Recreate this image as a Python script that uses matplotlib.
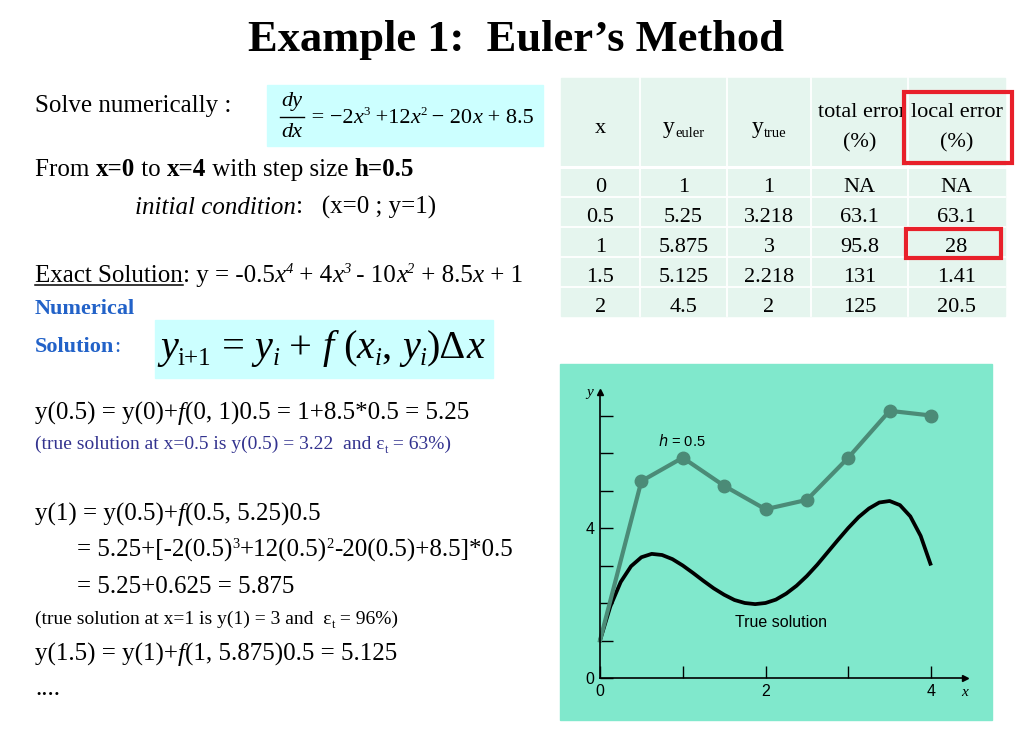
import matplotlib
matplotlib.use("Agg")
import matplotlib.pyplot as plt
from matplotlib.patches import Rectangle

# data
euler_x = [0, 0.5, 1, 1.5, 2, 2.5, 3, 3.5, 4]
euler_y = [1, 5.25, 5.875, 5.125, 4.5, 4.75, 5.875, 7.125, 7.0]

true_x = [0, 0.125, 0.25, 0.375, 0.5, 0.625, 0.75, 0.875, 1, 1.125, 1.25,
          1.375, 1.5, 1.625, 1.75, 1.875, 2, 2.125, 2.25, 2.375, 2.5, 2.625,
          2.75, 2.875, 3, 3.125, 3.25, 3.375, 3.5, 3.625, 3.75, 3.875, 4]
true_y = [1, 1.91, 2.56, 2.98, 3.22, 3.31, 3.28, 3.17, 3.0, 2.80, 2.59,
          2.39, 2.22, 2.08, 2.0, 1.97, 2.0, 2.09, 2.25, 2.46, 2.72, 3.02,
          3.35, 3.68, 4.0, 4.29, 4.52, 4.68, 4.72, 4.61, 4.31, 3.79, 3.0]

tab_x = ["0", "0.5", "1", "1.5", "2"]
tab_euler = ["1", "5.25", "5.875", "5.125", "4.5"]
tab_true = ["1", "3.218", "3", "2.218", "2"]
tab_total = ["NA", "63.1", "95.8", "131", "125"]
tab_local = ["NA", "63.1", "28", "1.41", "20.5"]

SERIF = "Liberation Serif"
SANS = "Liberation Sans"
PX = 100 / 72  # pixels per point

fig = plt.figure(figsize=(10.24, 7.29), dpi=100)
bg = fig.add_axes([0, 0, 1, 1])
bg.set_xlim(0, 1024)
bg.set_ylim(729, 0)
bg.axis("off")
renderer = fig.canvas.get_renderer()


def width_of(txt, **kw):
    t = bg.text(0, 0, txt + "|", **kw)
    w = t.get_window_extent(renderer).width
    t.remove()
    t = bg.text(0, 0, "|", **kw)
    w -= t.get_window_extent(renderer).width
    t.remove()
    return w


def runs(x, y, parts, size=18, color="black", family=SERIF, center=False, draw=True,
         clip=None):
    if center:
        total = runs(0, 0, parts, size, color, family, draw=False)
        x = x - total / 2
    for part in parts:
        txt, style = part if isinstance(part, tuple) else (part, "")
        kw = dict(family=family, color=color)
        s, yy = size, y
        if "b" in style:
            kw["weight"] = "bold"
        if "i" in style:
            kw["style"] = "italic"
        if "^" in style:
            s = size * 0.58
            yy = y - size * PX * 0.38
        if "_" in style:
            s = size * 0.62
            yy = y + size * PX * 0.18
        kw["fontsize"] = s
        w = width_of(txt, **kw)
        if draw:
            t = bg.text(x, yy, txt, va="baseline", ha="left", **kw)
            if clip is not None:
                t.set_clip_path(clip)
            if "u" in style:
                bg.plot([x, x + w], [y + 3, y + 3], color=color, lw=1.1)
        x += w
    return x


# title
bg.text(516, 51, "Example 1:  Euler\u2019s Method", family=SERIF, weight="bold",
        fontsize=32, ha="center", va="baseline")

# left column text
runs(35, 112, ["Solve numerically :"])

bg.add_patch(Rectangle((267, 85), 276, 61, color="#ccffff", zorder=0))
runs(292, 106, [("dy", "i")], size=16, center=True)
bg.plot([280, 304], [117, 117], color="black", lw=1)
runs(292, 137, [("dx", "i")], size=16, center=True)
runs(306, 123, [" = \u22122", ("x", "i"), ("3", "^"), " +12", ("x", "i"), ("2", "^"),
                " \u2212 20", ("x", "i"), " + 8.5"], size=16)

runs(35, 176, ["From ", ("x=0", "b"), " to ", ("x=4", "b"), " with step size ",
               ("h=0.5", "b")])
runs(135, 214, [("initial condition", "i"), ":   (x=0 ; y=1)"])
runs(35, 282, [("Exact Solution", "u"), ": y = -0.5", ("x", "i"), ("4", "^i"), " + 4",
               ("x", "i"), ("3", "^i"), " - 10", ("x", "i"), ("2", "^i"), " + 8.5",
               ("x", "i"), " + 1"])
runs(35, 314, [("Numerical", "b")], size=16, color="#2262c8")
runs(35, 352, [("Solution", "b"), ":"], size=16, color="#2262c8")

bg.add_patch(Rectangle((155, 320), 338, 58, color="#ccffff", zorder=0))
runs(160, 358, [("y", "i"), ("i+1", "_"), " = ", ("y", "i"), ("i", "_i"), " + ",
                ("f", "i"), " (", ("x", "i"), ("i", "_i"), ", ", ("y", "i"), ("i", "_i"),
                ")\u0394", ("x", "i")], size=29)

runs(35, 420, ["y(0.5) = y(0)+", ("f", "i"), "(0, 1)0.5 = 1+8.5*0.5 = 5.25"])
runs(35, 449, ["(true solution at x=0.5 is y(0.5) = 3.22  and \u03b5", ("t", "_"),
               " = 63%)"], size=14, color="#33338f")
runs(35, 521, ["y(1) = y(0.5)+", ("f", "i"), "(0.5, 5.25)0.5"])
runs(77, 557, ["= 5.25+[-2(0.5)", ("3", "^"), "+12(0.5)", ("2", "^"),
               "-20(0.5)+8.5]*0.5"])
runs(77, 593, ["= 5.25+0.625 = 5.875"])
runs(35, 624, ["(true solution at x=1 is y(1) = 3 and  \u03b5", ("t", "_"), " = 96%)"],
     size=14)
runs(35, 661, ["y(1.5) = y(1)+", ("f", "i"), "(1, 5.875)0.5 = 5.125"])
runs(35, 695, ["...."])

# table
col_edges = [561, 640, 727, 811, 908, 1005]
row_edges = [78, 167, 197, 227, 257, 287, 316]
bg.add_patch(Rectangle((col_edges[0], row_edges[0]), col_edges[-1] - col_edges[0],
                       row_edges[-1] - row_edges[0], color="#e5f5ee", zorder=0))
for cx in col_edges[1:-1]:
    bg.plot([cx, cx], [row_edges[0], row_edges[-1]], color="white", lw=1.3)
for i, ry in enumerate(row_edges[1:-1]):
    bg.plot([col_edges[0], col_edges[-1]], [ry, ry], color="white", lw=2.2 if i == 0 else 1.3)

centers = [(a + b) / 2 for a, b in zip(col_edges[:-1], col_edges[1:])]
runs(centers[0], 133, ["x"], size=16, center=True)
runs(centers[1], 133, ["y", ("euler", "_")], size=17, center=True)
runs(centers[2], 133, ["y", ("true", "_")], size=17, center=True)
total_clip = Rectangle((col_edges[3], row_edges[0]), col_edges[4] - col_edges[3] - 1,
                       row_edges[1] - row_edges[0], transform=bg.transData)
runs(centers[3] + 3, 117, ["total error"], size=16, center=True, clip=total_clip)
runs(centers[4], 117, ["local error"], size=16, center=True)
for c in (3, 4):
    runs(centers[c], 147, ["(%)"], size=16, center=True)
for r, row in enumerate(zip(tab_x, tab_euler, tab_true, tab_total, tab_local)):
    for c, val in enumerate(row):
        runs(centers[c], row_edges[r + 1] + 25, [val], size=16, center=True)

bg.add_patch(Rectangle((904, 92), 108, 71, fill=False, ec="#e8202a", lw=3, zorder=5))
bg.add_patch(Rectangle((906, 229), 95, 29, fill=False, ec="#e8202a", lw=3, zorder=5))

# chart panel
bg.add_patch(Rectangle((560, 364), 432, 356, color="#80e8cc", zorder=0))
ax = fig.add_axes([600 / 1024, (729 - 678) / 729, 365 / 1024, 286 / 729])
ax.patch.set_visible(False)
ax.set_xlim(0, 365 / 82.75)
ax.set_ylim(0, 286 / 37.5)
for side in ("top", "right"):
    ax.spines[side].set_visible(False)
for side in ("left", "bottom"):
    ax.spines[side].set_linewidth(1.2)
ax.plot(1, 0, ">k", ms=5, transform=ax.get_yaxis_transform(), clip_on=False)
ax.plot(0, 1, "^k", ms=5, transform=ax.get_xaxis_transform(), clip_on=False)

ax.plot(true_x, true_y, color="black", lw=2.7, solid_capstyle="butt",
        solid_joinstyle="round", clip_on=False)
ax.plot(euler_x, euler_y, color="#4b8b77", lw=3, marker="o", ms=9,
        markevery=range(1, len(euler_x)), clip_on=False)

ax.set_xticks([0, 1, 2, 3, 4])
ax.set_xticklabels(["0", "", "2", "", "4"])
ax.set_yticks(range(8))
ax.set_yticklabels(["0", "", "", "", "4", "", "", ""])
ax.tick_params(direction="in", length=9, width=1, labelsize=11.5, pad=4)
for lab in ax.get_xticklabels() + ax.get_yticklabels():
    lab.set_family(SANS)

ax.text(-0.12, 7.62, "y", family=SERIF, style="italic", fontsize=11, ha="center", va="center")
ax.text(4.4, -0.4, "x", family=SERIF, style="italic", fontsize=11, ha="center", va="center")
ax.text(0.7, 6.32, "$h$ = 0.5", family=SANS, fontsize=10.5, va="center")
ax.text(2.19, 1.49, "True solution", family=SANS, fontsize=11.5, ha="center", va="center")

fig.savefig("out.png", dpi=100)
